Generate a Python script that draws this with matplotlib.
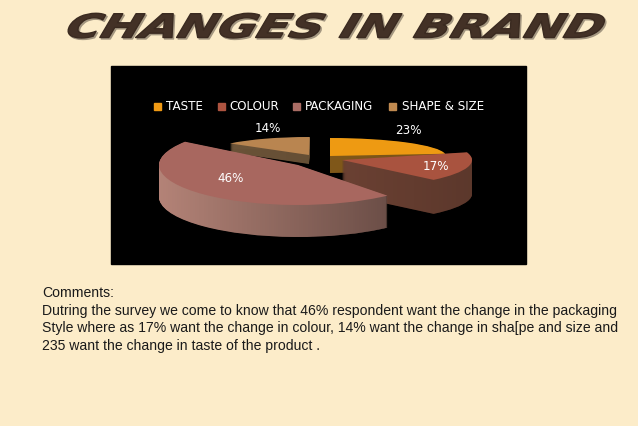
import matplotlib
matplotlib.use('Agg')
from matplotlib import pyplot as plt
from matplotlib.path import Path
from matplotlib.patches import Rectangle
from matplotlib.transforms import Affine2D
import matplotlib.patheffects as pe
import numpy as np

W, H = 638, 426

categories = ['TASTE', 'COLOUR', 'PACKAGING', 'SHAPE & SIZE']
shares = [23, 17, 46, 14]
labels = ['23%', '17%', '46%', '14%']
top_colors = ['#EE9A12', '#A9533F', '#A8675F', '#B98550']
side_colors = ['#8A5F1C', '#7A4A3A', '#B58478', '#6B5338']
legend_colors = ['#F09A14', '#AE5440', '#A96C64', '#C08A50']

title = 'CHANGES IN BRAND'
comments = ['Comments:',
            'Dutring the survey we come to know that 46% respondent want the change in the packaging',
            'Style where as 17% want the change in colour, 14% want the change in sha[pe and size and',
            '235 want the change in taste of the product .']

# apex x, apex y, radius x, radius y, thickness, start angle clockwise from top, shade (pixels)
geometry = {
    3: (309, 155, 103, 18, 9, 310, 0.1),
    0: (330, 156, 116, 18, 17, 0, 0.15),
    1: (342, 160, 130, 28, 34, 74, 0.25),
    2: (298, 165, 139, 40, 32, 140, 0.5),
}
draw_order = [3, 0, 1, 2]
label_pos = [(408, 131), (436, 167), (231, 178), (268, 128)]
square_x = [154, 218, 293, 389]
name_x = [166, 229, 305, 402]


class Stretch(pe.AbstractPathEffect):
    # widens and slants the title around its centre, the slide used word art
    def __init__(self, cx, cy, sx, sy, slant):
        super().__init__()
        self.t = Affine2D().translate(-cx, -cy).skew_deg(slant, 0).scale(sx, sy).translate(cx, cy)

    def draw_path(self, renderer, gc, tpath, affine, rgbFace=None):
        gc0 = renderer.new_gc()
        gc0.copy_properties(gc)
        gc0.set_foreground('#A39680')
        gc0.set_linewidth(1.0)
        renderer.draw_path(gc0, tpath, affine + self.t + Affine2D().translate(1.5, -1.5), (0.64, 0.59, 0.5, 1))
        gc0.restore()
        gc1 = renderer.new_gc()
        gc1.copy_properties(gc)
        gc1.set_foreground('#3A2A20')
        gc1.set_linewidth(1.0)
        renderer.draw_path(gc1, tpath, affine + self.t, rgbFace)
        gc1.restore()


fig = plt.figure(figsize=(W / 100, H / 100), dpi=100, facecolor='#FCECC9')
bg = fig.add_axes([0, 0, 1, 1])
bg.set_xlim(0, W)
bg.set_ylim(H, 0)
bg.axis('off')
bg.add_patch(Rectangle((111, 66), 415, 198, color='black'))

bg.text(335, 28, title, fontsize=23.5, fontweight='bold', family='DejaVu Sans',
        color='#433126', ha='center', va='center',
        path_effects=[Stretch(335, H - 28, 1.46, 1.0, 22)])

for i, line in enumerate(comments):
    bg.text(42, 293 + i * 17.7, line, fontsize=10.1, family='Liberation Sans',
            color='#1a1a1a', ha='left', va='center')

for x, tx, name, c in zip(square_x, name_x, categories, legend_colors):
    bg.add_patch(Rectangle((x, 103), 7, 7, color=c))
    bg.text(tx, 107, name, fontsize=8.6, color='white', ha='left', va='center')


def shade(ax, paths, alpha, extent):
    # horizontal shading over the side of a slice
    rgba = np.zeros((1, 64, 4))
    rgba[..., 3] = np.linspace(0, 1, 64) * alpha
    im = ax.imshow(rgba, extent=extent, aspect='auto', zorder=5, interpolation='bilinear')
    im.set_clip_path(Path.make_compound_path(*paths), transform=ax.transData)


for k in draw_order:
    ax0, ay0, rx, ry, thick, start, dark = geometry[k]
    ax = fig.add_axes([0, 0, 1, 1], facecolor='none')
    xlim = (-ax0 / rx, (W - ax0) / rx)
    ylim = ((ay0 - H) / ry, ay0 / ry)
    side_paths = []
    for d in np.arange(thick, 0, -0.5):
        wedges, _ = ax.pie([shares[k] / 100], startangle=90 - start, counterclock=False,
                           normalize=False, center=(0, -d / ry), radius=1,
                           colors=[side_colors[k]], wedgeprops={'linewidth': 0, 'zorder': 2})
        side_paths.append(wedges[0].get_path())
    wedges, _ = ax.pie([shares[k] / 100], startangle=90 - start, counterclock=False,
                       normalize=False, center=(0, 0), radius=1,
                       colors=[top_colors[k]], wedgeprops={'linewidth': 0, 'zorder': 8})
    shade(ax, side_paths, dark, (-1.05, 1.05, -1.05 - thick / ry, 0.3))
    ax.set_aspect('auto')
    ax.set_xlim(*xlim)
    ax.set_ylim(*ylim)
    ax.axis('off')

front = fig.add_axes([0, 0, 1, 1], facecolor='none')
front.set_xlim(0, W)
front.set_ylim(H, 0)
front.axis('off')
for (x, y), s in zip(label_pos, labels):
    front.text(x, y, s, fontsize=8.6, color='white', ha='center', va='center')

fig.savefig('out.png', dpi=100, facecolor=fig.get_facecolor())
